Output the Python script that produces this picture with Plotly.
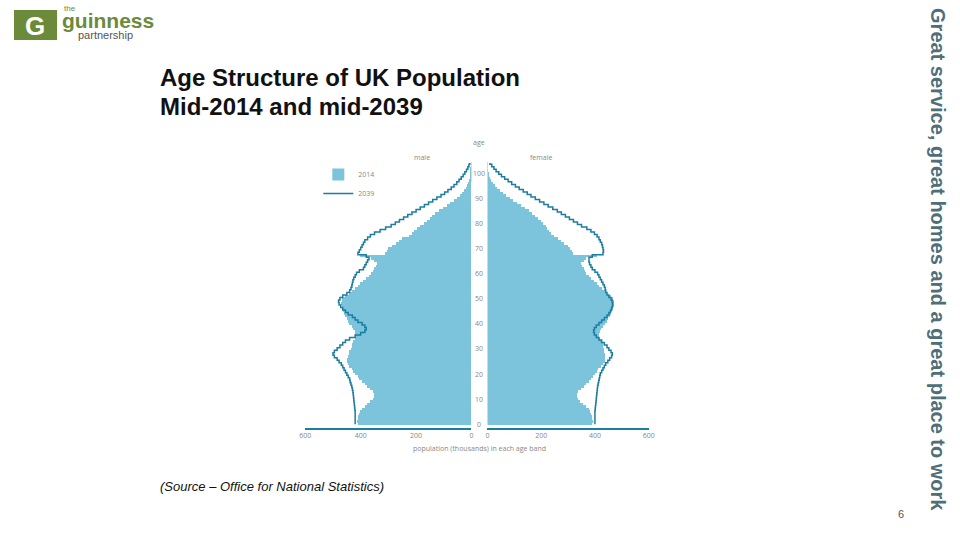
import plotly.graph_objects as go
from plotly.subplots import make_subplots

ages = list(range(0, 105))
male_2014 = [410,412,410,408,405,402,395,385,375,365,
             355,350,350,355,365,375,385,395,405,410,
             420,425,430,440,445,450,450,445,440,440,
             435,430,430,425,420,420,418,420,425,430,
             440,445,450,455,460,462,465,468,470,468,
             465,455,440,430,420,410,400,390,380,370,
             360,355,350,345,340,350,360,400,310,305,
             300,285,270,260,250,225,215,205,195,185,
             170,160,150,140,130,115,100,88,75,62,
             50,40,32,25,19,14,10,7,5,3,
             2,1,1,0.5,0.3]
male_2039 = [420,420,420,420,420,420,421,422,423,424,
             425,426,427,428,430,432,435,438,440,445,
             450,455,460,465,470,478,485,495,500,495,
             485,475,465,455,440,420,400,385,380,385,
             395,410,420,430,445,455,465,472,478,480,
             475,465,450,440,435,432,430,428,425,420,
             415,405,390,385,380,375,370,380,410,405,
             400,395,390,385,375,365,350,330,310,290,
             275,260,245,230,215,200,185,170,155,140,
             125,110,97,85,73,63,53,45,37,30,
             24,18,13,9,6]
female_2014 = [392,393,392,390,388,385,378,368,358,348,
               340,335,335,340,350,360,370,378,388,395,
               402,408,415,425,432,438,440,440,438,436,
               435,432,430,425,420,418,418,420,425,430,
               438,445,452,458,463,466,470,472,474,472,
               468,460,448,438,428,418,408,398,388,378,
               370,365,360,355,350,360,370,410,320,315,
               310,300,285,275,265,250,240,232,225,218,
               210,200,190,180,168,155,140,126,112,98,
               85,72,60,48,38,29,21,15,10,7,
               4,3,2,1,0.5]
female_2039 = [400,400,400,400,400,400,401,402,403,404,
               405,406,407,408,409,410,412,414,416,418,
               420,425,430,435,440,448,455,462,465,460,
               452,445,435,425,415,405,398,395,398,405,
               415,425,435,445,452,458,462,465,466,464,
               460,452,445,440,438,435,430,425,420,415,
               410,400,390,385,380,378,378,390,430,432,
               430,428,425,420,415,408,398,385,370,350,
               335,320,305,290,275,260,243,226,210,194,
               178,162,148,133,118,104,90,77,64,52,
               42,32,24,16,9]
age_ticks = [0,10,20,30,40,50,60,70,80,90,100]
x_ticks = [0,200,400,600]

BAR = "#7cc3dc"
LINE = "#1b7da0"
GRAY = "#888888"

def X(x):
    return (x - 6) / 0.9865 / 960

fig = make_subplots(rows=1, cols=2, shared_yaxes=True, horizontal_spacing=0.0)
fig.add_trace(go.Bar(y=ages, x=male_2014, orientation="h", marker_color=BAR,
                     marker_line_width=0, name="2014", width=1.0), 1, 1)
fig.add_trace(go.Bar(y=ages, x=female_2014, orientation="h", marker_color=BAR,
                     marker_line_width=0, showlegend=False, width=1.0), 1, 2)
fig.add_trace(go.Scatter(y=ages, x=male_2039, mode="lines", line=dict(color=LINE, width=1.5, shape="vhv"),
                         name="2039"), 1, 1)
fig.add_trace(go.Scatter(y=ages, x=female_2039, mode="lines", line=dict(color=LINE, width=1.5, shape="vhv"),
                         showlegend=False), 1, 2)

ax = dict(range=[600, 0], tickvals=x_ticks, ticktext=[str(v) for v in x_ticks],
          tickfont=dict(family="Open Sans", size=7, color=GRAY), showgrid=False, zeroline=False,
          showline=True, linecolor=LINE, linewidth=2, ticks="")
fig.update_xaxes(**ax, domain=[X(305), X(471)], row=1, col=1)
ax["range"] = [0, 600]
fig.update_xaxes(**ax, domain=[X(487), X(648)], row=1, col=2)
fig.update_yaxes(range=[-1.5, 106], domain=[(540-428)/540, (540-158)/540],
                 showticklabels=False, showgrid=False, zeroline=False, showline=False)

def P(x, y, text, size, color=GRAY, family="Open Sans", xanchor="center", **kw):
    return dict(x=X(x), y=1-y/540, xref="paper", yref="paper", text=text, showarrow=False,
                xanchor=xanchor, yanchor="middle", font=dict(family=family, size=size, color=color), **kw)

ann = []
for a in age_ticks:
    ann.append(dict(x=X(479), y=a, xref="paper", yref="y", text=str(a), showarrow=False,
                    yanchor="middle", font=dict(family="Open Sans", size=7, color=GRAY)))
ann += [
    P(479, 142, "age", 7),
    P(422, 157, "male", 7),
    P(540, 157, "female", 7),
    P(479, 448, "population (thousands) in each age band", 7),
    P(158, 77, "<b>Age Structure of UK Population</b>", 24, "#111", "Arial", "left"),
    P(158, 106, "<b>Mid-2014 and mid-2039</b>", 24, "#111", "Arial", "left"),
    P(158, 486, "<i>(Source – Office for National Statistics)</i>", 13, "#111", "Arial", "left"),
    P(900, 514, "6", 11, "#555", "Arial"),
    P(937, 260, "<b>Great service, great homes and a great place to work</b>", 20, "#4f6f78",
      "Arial", textangle=90),
    P(35, 26, "<b>G</b>", 26, "white", "Arial"),
    P(62, 8, "the", 8, "#6b8a3a", "Arial", "left"),
    P(60, 21, "<b>guinness</b>", 21, "#6b8a3a", "Arial", "left"),
    P(76, 35, "partnership", 11, "#555", "Arial", "left"),
]
shapes = [dict(type="rect", xref="paper", yref="paper", x0=X(14), x1=X(57),
               y0=1-40/540, y1=1-10/540, fillcolor="#6b8a3a", line_width=0)]

fig.update_layout(width=960, height=540, margin=dict(l=0, r=0, t=0, b=0),
                  paper_bgcolor="white", plot_bgcolor="white", bargap=0, barmode="overlay",
                  annotations=ann, shapes=shapes,
                  legend=dict(x=X(318), y=1-160/540, xanchor="left", yanchor="top",
                              font=dict(family="Open Sans", size=7, color=GRAY),
                              bgcolor="rgba(0,0,0,0)", tracegroupgap=0, itemwidth=30))
fig.write_html("out.html", config={"displayModeBar": False},
               post_script="document.body.style.margin='0';document.body.style.padding='0';")
